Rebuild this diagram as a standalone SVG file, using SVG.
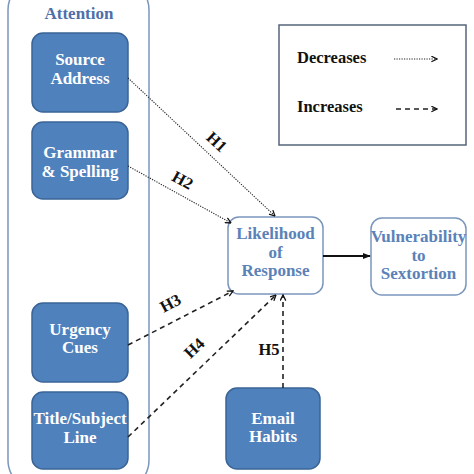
<svg xmlns="http://www.w3.org/2000/svg" width="474" height="474" viewBox="0 0 474 474">
<defs>
<marker id="ah" viewBox="0 0 10 10" refX="9" refY="5" markerWidth="7" markerHeight="7" markerUnits="userSpaceOnUse" orient="auto">
<path d="M1,1 L9,5 L1,9" fill="none" stroke="#111" stroke-width="1.8"/>
</marker>
<marker id="ahs" viewBox="0 0 10 10" refX="9" refY="5" markerWidth="8" markerHeight="8" markerUnits="userSpaceOnUse" orient="auto">
<path d="M0,1 L10,5 L0,9 Z" fill="#111"/>
</marker>
</defs>
<style>
.dark rect{fill:#4f81bd;stroke:#3a6496;stroke-width:1.5}
.light rect{fill:#fff;stroke:#7a96bd;stroke-width:1.5}
text{font-family:"Liberation Serif","DejaVu Serif",serif;font-weight:bold;font-size:17px;text-anchor:middle}
.dark text{fill:#fff}
.light text{fill:#5b82b8}
.lbl{fill:#111;font-size:16.5px}
.dec{fill:none;stroke:#222;stroke-width:1.1;stroke-dasharray:1.2 1.3}
.inc{fill:none;stroke:#222;stroke-width:1.6;stroke-dasharray:5 4}
</style>
<rect width="474" height="474" fill="#fff"/>
<g id="attention">
<rect x="8" y="-20" width="141" height="510" rx="30" fill="none" stroke="#7a96bd" stroke-width="1.5"/>
<text x="79" y="19" fill="#4f6fa8">Attention</text>
</g>
<g id="source" class="dark">
<rect x="32" y="33" width="96" height="79" rx="11"/>
<text x="80" y="65">Source</text>
<text x="80" y="84">Address</text>
</g>
<g id="grammar" class="dark">
<rect x="32" y="122" width="96" height="77" rx="11"/>
<text x="80" y="158">Grammar</text>
<text x="80" y="177">&amp; Spelling</text>
</g>
<g id="urgency" class="dark">
<rect x="32" y="303" width="96" height="79" rx="11"/>
<text x="80" y="335">Urgency</text>
<text x="80" y="353">Cues</text>
</g>
<g id="title" class="dark">
<rect x="32" y="392" width="96" height="77" rx="11"/>
<text x="80" y="424">Title/Subject</text>
<text x="80" y="443">Line</text>
</g>
<g id="email" class="dark">
<rect x="226" y="388" width="94" height="81" rx="11"/>
<text x="273" y="424">Email</text>
<text x="273" y="442">Habits</text>
</g>
<g id="likelihood" class="light">
<rect x="228" y="217" width="95" height="77" rx="11"/>
<text x="275.5" y="239">Likelihood</text>
<text x="275.5" y="258">of</text>
<text x="275.5" y="276">Response</text>
</g>
<g id="vulnerability" class="light">
<rect x="371" y="218" width="95" height="77" rx="11"/>
<text x="418.5" y="242">Vulnerability</text>
<text x="418.5" y="261">to</text>
<text x="418.5" y="279">Sextortion</text>
</g>
<g id="legend">
<rect x="279" y="25" width="187" height="120" fill="#fff" stroke="#55657a" stroke-width="1.5"/>
<text class="lbl" x="297" y="63" style="text-anchor:start">Decreases</text>
<text class="lbl" x="297" y="112" style="text-anchor:start">Increases</text>
<line class="dec" x1="394" y1="59" x2="437" y2="59" marker-end="url(#ah)"/>
<line class="inc" x1="396" y1="109" x2="437" y2="109" marker-end="url(#ah)"/>
</g>
<g id="connectors">
<line class="dec" x1="128" y1="78" x2="275" y2="216" marker-end="url(#ah)"/>
<line class="dec" x1="128" y1="166" x2="231" y2="223" marker-end="url(#ah)"/>
<line class="inc" x1="128" y1="345" x2="233" y2="291" marker-end="url(#ah)"/>
<line class="inc" x1="128" y1="437" x2="276" y2="295" marker-end="url(#ah)"/>
<line class="inc" x1="283" y1="388" x2="283" y2="295" marker-end="url(#ah)"/>
<line x1="323" y1="256" x2="370" y2="256" stroke="#111" stroke-width="1.8" marker-end="url(#ahs)"/>
<text class="lbl" transform="translate(213,146) rotate(43)">H1</text>
<text class="lbl" transform="translate(180,185) rotate(29)">H2</text>
<text class="lbl" transform="translate(173,308) rotate(-28)">H3</text>
<text class="lbl" transform="translate(198,352) rotate(-44)">H4</text>
<text class="lbl" x="269" y="355">H5</text>
</g>
</svg>
